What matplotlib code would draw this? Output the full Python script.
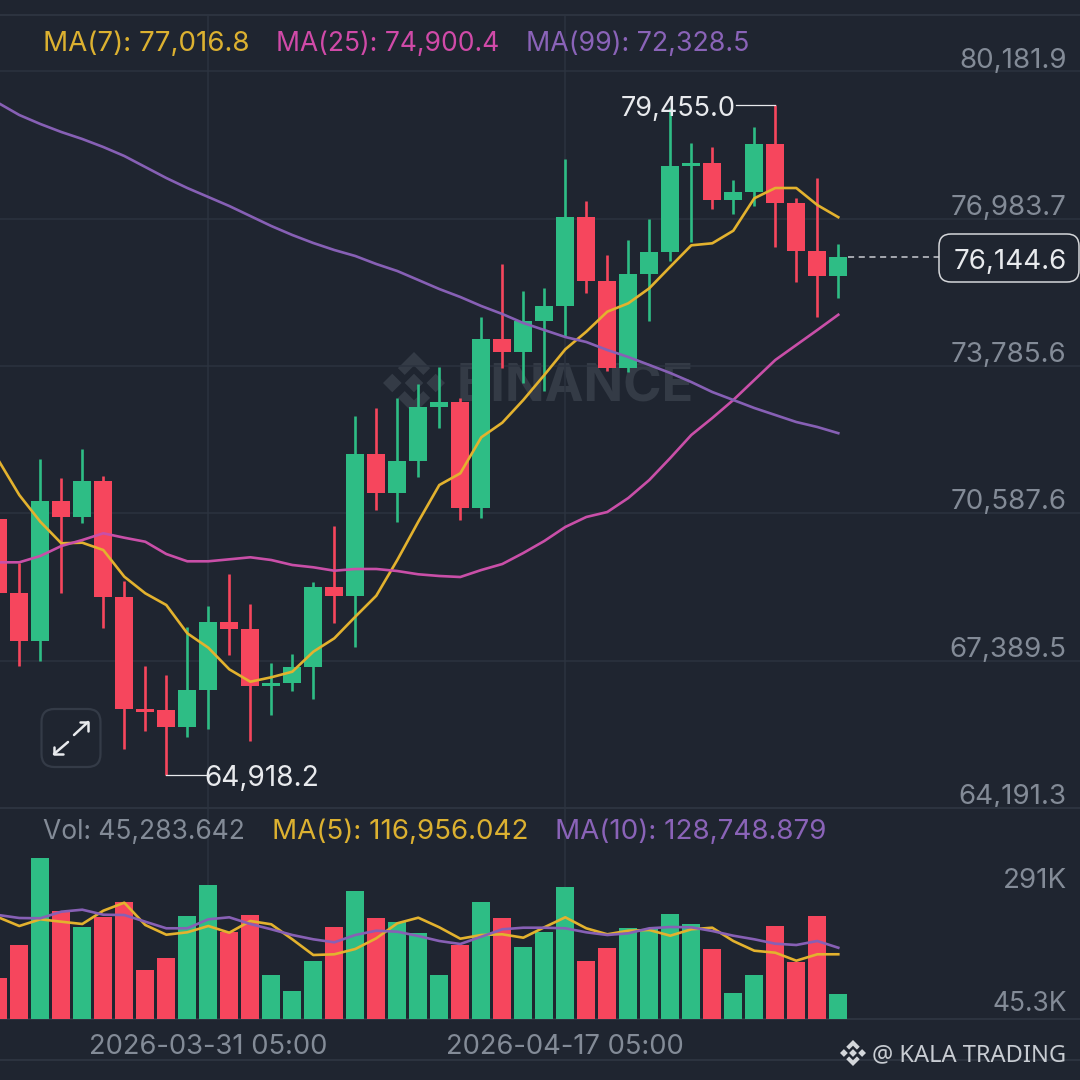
import numpy as np
import matplotlib
matplotlib.use("Agg")
import matplotlib.pyplot as plt
from matplotlib.patches import FancyBboxPatch, Polygon
from matplotlib.transforms import ScaledTranslation

plt.rcParams['font.family'] = ['Inter', 'DejaVu Sans']

# candles
opens = [70459, 68865, 67817, 70849, 70509, 71284, 68772, 66347, 66319, 65956, 66746, 68223, 68071, 66846,
         66905, 67252, 68982, 68800, 71876, 71023, 71731, 72903, 72999, 70697, 74367, 74091, 74757, 75089,
         77015, 75639, 73743, 75778, 76268, 78129, 78201, 77384, 77571, 78600, 77319, 76277, 75741]
highs = [70769, 69510, 71768, 71355, 71985, 71399, 69119, 67267, 67078, 68127, 68576, 69271, 68620, 67332,
         67534, 69091, 70313, 72701, 72875, 73092, 73396, 73759, 73092, 74851, 76001, 75415, 75480, 78281,
         77362, 76190, 76516, 76978, 79388, 78635, 78535, 77831, 78976, 79455, 77428, 77862, 76429]
lows = [68490, 67280, 67389, 68865, 70372, 68105, 65478, 65869, 64918, 65739, 65913, 67513, 65652, 66217,
        66731, 66564, 68214, 67693, 70661, 70407, 71371, 72434, 70443, 70493, 73750, 73424, 73244, 74423,
        75378, 73685, 73657, 74770, 76066, 76479, 77195, 77087, 77267, 76377, 75617, 74857, 75263]
closes = [68865, 67817, 70849, 70509, 71284, 68778, 66347, 66275, 65956, 66746, 68223, 68071, 66846, 66905,
          67252, 68982, 68800, 71876, 71023, 71731, 72903, 72999, 70697, 74367, 74091, 74757, 75089, 77015,
          75639, 73737, 75778, 76268, 78122, 78201, 77384, 77564, 78600, 77319, 76283, 75741, 76145]

ma7 = [71746, 70986, 70407, 69938, 69951, 69792, 69213, 68852, 68598, 67984, 67671, 67202, 66933, 67029,
       67150, 67584, 67875, 68344, 68800, 69575, 70407, 71203, 71457, 72239, 72556, 73049, 73591, 74149,
       74532, 74966, 75148, 75474, 75943, 76407, 76451, 76724, 77428, 77651, 77651, 77282, 77017]
ma25 = [69525, 69525, 69662, 69879, 70009, 70155, 70059, 69972, 69705, 69547, 69547, 69590, 69634, 69575,
        69467, 69417, 69343, 69380, 69380, 69336, 69265, 69228, 69206, 69358, 69488, 69727, 69988, 70292,
        70509, 70617, 70921, 71312, 71790, 72289, 72658, 73049, 73483, 73917, 74243, 74568, 74900]
ma99 = [79497, 79236, 79041, 78867, 78715, 78541, 78346, 78107, 77868, 77651, 77456, 77260, 77043, 76826,
        76631, 76457, 76305, 76175, 76001, 75849, 75654, 75458, 75285, 75089, 74916, 74720, 74568, 74416,
        74308, 74134, 73982, 73809, 73635, 73439, 73222, 73049, 72875, 72723, 72571, 72463, 72328]

# volume pane
volumes = [74087, 133718, 291000, 195156, 165700, 184856, 211419, 88543, 110227, 186121, 241596, 156667,
           187386, 78966, 50596, 104264, 165700, 231296, 181965, 174737, 155402, 79508, 133718, 211419,
           181965, 130104, 157209, 238524, 105348, 128297, 164979, 163172, 189735, 171665, 127032, 46440,
           79508, 168051, 103541, 185579, 45284]
vol_ma5 = [183772, 168051, 180158, 175821, 171665, 195698, 210154, 169858, 152330, 156667, 168051, 155944,
           177086, 171123, 144018, 115648, 116913, 126490, 145825, 172930, 183049, 165700, 145102, 151788,
           153053, 146909, 165700, 183772, 163895, 153053, 159558, 160823, 150523, 162088, 164979, 140946,
           123418, 119804, 105348, 116913, 116956]
vol_ma10 = [187928, 182507, 181965, 193891, 197505, 188470, 187928, 175821, 163895, 163895, 180158, 183772,
            171665, 162088, 151788, 144018, 138597, 151788, 159558, 157751, 149981, 140946, 135525, 148716,
            162088, 164979, 164979, 163895, 156667, 151788, 154860, 163895, 166244, 165700, 159016, 150523,
            144018, 136067, 133718, 140946, 128749]

price_ticks = [80181.9, 76983.7, 73785.6, 70587.6, 67389.5, 64191.3]
date_ticks = [10, 27]
date_labels = ["2026-03-31 05:00", "2026-04-17 05:00"]

BG = "#1f2530"
GRID = "#2c333f"
GREEN = "#2ebd85"
RED = "#f6465d"
YELLOW = "#e3b22e"
PINK = "#c94fa8"
PURPLE = "#8760b5"
MUTED = "#838b97"
LIGHT = "#e8eaed"

x = np.arange(len(opens))
colors = [GREEN if c >= o else RED for o, c in zip(opens, closes)]
FS = 20


def px_axes(top, bottom):
    # axes covering the whole width between two pixel rows
    return fig.add_axes([0, 1 - bottom / 1080, 1, (bottom - top) / 1080])


def logo(axis, cx, cy, r, color):
    small = np.array([[0, .3], [.3, 0], [0, -.3], [-.3, 0]])
    chevron = np.array([[0, 1], [.52, .48], [.3, .26], [0, .56], [-.3, .26], [-.52, .48]])
    for dx in (-.7, 0, .7):
        axis.add_patch(Polygon((small + [dx, 0]) * r + [cx, cy], closed=True, color=color, lw=0))
    for flip in (1, -1):
        axis.add_patch(Polygon(chevron * [1, flip] * r + [cx, cy], closed=True, color=color, lw=0))


fig = plt.figure(figsize=(10.8, 10.8), dpi=100, facecolor=BG)

# background layer with watermark
back = fig.add_axes([0, 0, 1, 1], zorder=0)
back.set_xlim(0, 1080)
back.set_ylim(1080, 0)
back.axis("off")
logo(back, 414, 383, 31, "#343b46")
back.text(457, 388, "BINANCE", color="#343b46", fontsize=37.5, fontweight="bold", va="center", ha="left")
back.plot([0, 1080], [1060, 1060], color=GRID, lw=1.5)

# price pane
ax = px_axes(15, 808)
ax.set_zorder(1)
ax.patch.set_visible(False)
ax.set_xlim(0.081, 51.51)
ax.set_ylim(64191.3, 81407)
ax.vlines(x, lows, highs, colors=colors, lw=1.9, zorder=2)
ax.bar(x, np.abs(np.array(closes) - np.array(opens)), bottom=np.minimum(opens, closes),
       width=0.87, color=colors, zorder=3)
ax.plot(x, ma7, color=YELLOW, lw=1.9, zorder=4)
ax.plot(x, ma25, color=PINK, lw=1.9, zorder=4)
ax.plot(x, ma99, color=PURPLE, lw=1.9, zorder=4)
ax.hlines(closes[-1], 40.45, 44.95, colors="#c9ccd1", lw=1.1, linestyles=(0, (4, 3)), zorder=2)

ax.set_xticks(date_ticks)
ax.set_yticks(price_ticks)
ax.set_yticklabels([f"{t:,.1f}" for t in price_ticks])
ax.yaxis.tick_right()
ax.grid(color=GRID, lw=1.1, zorder=0)
ax.set_axisbelow(True)
ax.tick_params(axis="x", length=0, labelbottom=False)
ax.tick_params(axis="y", length=0, pad=-9.8, labelsize=FS, labelcolor=MUTED)
shift = ScaledTranslation(0, -1.5 / 72, fig.dpi_scale_trans)
for lab in ax.get_yticklabels():
    lab.set_ha("right")
    lab.set_va("bottom")
    lab.set_transform(lab.get_transform() + shift)
for side in ax.spines:
    ax.spines[side].set_visible(side in ("top", "bottom"))
    ax.spines[side].set_color(GRID)
    ax.spines[side].set_linewidth(1.5)

ax.plot([37, 37 - 1.86], [79455, 79455], color=LIGHT, lw=0.9, zorder=6)
ax.plot([8, 8 + 1.9], [64918.2, 64918.2], color=LIGHT, lw=0.9, zorder=6)
ax.annotate("79,455.0", xy=(37 - 1.86, 79455), xytext=(0, -3), textcoords="offset points", color=LIGHT,
            fontsize=19.5, ha="right", va="center", zorder=6)
ax.annotate("64,918.2", xy=(8 + 1.9, 64918.2), xytext=(-1, -3), textcoords="offset points", color=LIGHT,
            fontsize=20.2, ha="left", va="center", zorder=6)

# volume pane
vx = px_axes(808, 1019)
vx.set_zorder(1)
vx.patch.set_visible(False)
vx.set_xlim(0.081, 51.51)
vx.set_ylim(0, 381277)
vx.bar(x, volumes, width=0.87, color=colors, zorder=3)
vx.plot(x, vol_ma5, color=YELLOW, lw=1.9, zorder=4)
vx.plot(x, vol_ma10, color=PURPLE, lw=1.9, zorder=4)
vx.set_xticks(date_ticks)
vx.set_xticklabels(date_labels)
vx.set_yticks([])
vx.grid(axis="x", color=GRID, lw=1.1, zorder=0)
vx.set_axisbelow(True)
vx.tick_params(axis="x", length=0, pad=11, labelsize=19.7, labelcolor=MUTED)
for side in vx.spines:
    vx.spines[side].set_visible(side == "bottom")
    vx.spines[side].set_color(GRID)
    vx.spines[side].set_linewidth(1.5)

# texts and widgets on top
top = fig.add_axes([0, 0, 1, 1], zorder=2)
top.set_xlim(0, 1080)
top.set_ylim(1080, 0)
top.axis("off")

legend_rows = [
    (43, 44, "MA(7): 77,016.8", "#dcb130", FS),
    (276, 44, "MA(25): 74,900.4", "#d04aa8", 19.05),
    (526, 44, "MA(99): 72,328.5", "#8a63b8", 19.3),
    (43, 832, "Vol: 45,283.642", MUTED, 19),
    (272, 832, "MA(5): 116,956.042", "#dcb130", FS),
    (555, 832, "MA(10): 128,748.879", "#8a63b8", FS),
]
for tx, ty, label, col, size in legend_rows:
    top.text(tx, ty, label, color=col, fontsize=size, va="center", ha="left")
top.text(1067, 881.5, "291K", color=MUTED, fontsize=FS, va="center", ha="right")
top.text(1067, 1004, "45.3K", color=MUTED, fontsize=19, va="center", ha="right")

top.add_patch(FancyBboxPatch((939, 234), 140, 48, boxstyle="round,pad=0,rounding_size=12",
                             fc=BG, ec="#d5d7da", lw=1.1))
top.text(1067, 262, "76,144.6", color=LIGHT, fontsize=FS, va="center", ha="right")

# expand button
top.add_patch(FancyBboxPatch((41.5, 709), 59, 58, boxstyle="round,pad=0,rounding_size=13",
                             fc="none", ec="#343b47", lw=1.6))
for seg in ([(74, 735), (88, 722)], [(80, 722), (88, 722), (88, 731)],
            [(68, 742), (54, 754)], [(54, 747), (54, 754), (63, 754)]):
    top.plot(*zip(*seg), color=LIGHT, lw=1.8, solid_capstyle="round")

# footer
logo(top, 853, 1053, 13, "#d3d6da")
top.text(1066, 1055, "@ KALA TRADING", color="#c8ccd2", fontsize=17, va="center", ha="right",
         family="Noto Sans")

fig.savefig("out.png", dpi=100, facecolor=BG)
